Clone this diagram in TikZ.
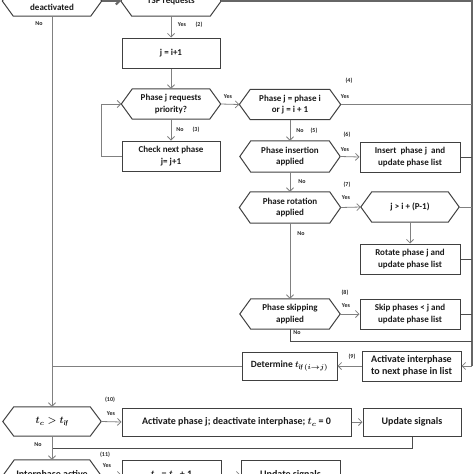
\documentclass[tikz,border=0pt]{standalone}
\usepackage{fontspec}
\setmainfont{Carlito}
\usetikzlibrary{arrows.meta,calc}
\newcommand\myhex[1]{\draw[hexline] (#1.west) -- ([xshift=11pt]#1.north west) -- ([xshift=-11pt]#1.north east) -- (#1.east) -- ([xshift=-11pt]#1.south east) -- ([xshift=11pt]#1.south west) -- cycle;}
\begin{document}
\begin{tikzpicture}[x=1pt,y=-1pt,
  box/.style={draw=black!75, line width=1pt, rectangle, inner sep=0pt, align=center, font=\fontsize{9}{11.5}\selectfont\bfseries, text=black!90},
  bigf/.style={font=\fontsize{10}{12}\selectfont\bfseries},
  hexn/.style={rectangle, inner sep=0pt, align=center, minimum height=30pt, font=\fontsize{9}{11.5}\selectfont\bfseries, text=black!90},
  txt/.style={inner sep=0pt, font=\fontsize{9}{11.5}\selectfont\bfseries, text=black!90},
  hexline/.style={draw=black!75, line width=1pt, line join=miter},
  conn/.style={draw=black!50, line width=0.8pt},
  arr/.style={conn, -{Straight Barb[length=3.5pt,width=7pt]}},
  bar/.style={draw=black!60, line width=2pt},
  lab/.style={font=\fontsize{6}{7}\selectfont\bfseries, text=black!85, inner sep=0pt},
]
\useasboundingbox (0,0) rectangle (474,474);
\clip (0,0) rectangle (474,474);

% nodes
\node[hexn, minimum width=99pt] (deact) at (52,1) {};
\node[txt] (deactT) at (52,7) {deactivated};
\node[hexn, minimum width=100pt] (tsp) at (171,1) {};
\node[txt] (tspT) at (171,1) {TSP requests};
\node[box, minimum width=98pt, minimum height=30pt] (ji) at (171,53) {j = i+1};
\node[hexn, minimum width=99pt] (req) at (171,104) {Phase j requests\\priority?};
\node[box, minimum width=98pt, minimum height=30pt] (chk) at (171,156) {Check next phase\\j= j+1};
\node[hexn, minimum width=101pt] (eq) at (290,104.5) {Phase j = phase i\\or j = i + 1};
\node[hexn, minimum width=100pt, minimum height=31pt] (ins) at (290,156.5) {Phase insertion\\applied};
\node[box, minimum width=100pt, minimum height=30pt] (insb) at (410,157) {Insert~ phase j~ and\\update phase list};
\node[hexn, minimum width=101pt, minimum height=31pt] (rot) at (290,207.5) {Phase rotation\\applied};
\node[hexn, minimum width=98pt] (jgt) at (410,207) {j > i + (P-1)};
\node[box, minimum width=100pt, minimum height=30pt] (rotb) at (410,259) {Rotate phase j and\\update phase list};
\node[hexn, minimum width=100pt] (skip) at (290,314) {Phase skipping\\applied};
\node[box, minimum width=100pt, minimum height=30pt] (skipb) at (410,314) {Skip phases < j and\\update phase list};
\node[box, bigf, minimum width=99pt, minimum height=30pt] (act) at (411.5,366) {Activate interphase\\to next phase in list};
\node[box, font=\fontsize{9.5}{11.5}\selectfont\bfseries, minimum width=95pt, minimum height=28pt] (det) at (289.5,366) {Determine {\boldmath$t_{\mathit{if}\,(i\rightarrow j)}$}};
\node[hexn, minimum width=98pt, minimum height=29pt, font=\fontsize{10}{12}\selectfont] (tc) at (52,421.5) {{\boldmath$t_c > t_{\mathit{if}}$}};
\node[box, bigf, minimum width=229pt, minimum height=28pt] (actj) at (236.5,422) {Activate phase j; deactivate interphase; {\boldmath$t_c$} = 0};
\node[box, bigf, minimum width=98pt, minimum height=28pt] (upd1) at (412,422) {Update signals};
\node[hexn, bigf, minimum width=97pt] (ia) at (52,475) {Interphase active};
\node[box, bigf, minimum width=99pt, minimum height=30pt] (tci) at (171.5,475) {{\boldmath$t_c$} = {\boldmath$t_c$} + 1};
\node[box, bigf, minimum width=99pt, minimum height=30pt] (upd2) at (290.5,475) {Update signals};

% hexagon outlines
\myhex{deact}\myhex{tsp}\myhex{req}\myhex{eq}\myhex{ins}\myhex{rot}\myhex{jgt}\myhex{skip}\myhex{tc}\myhex{ia}

% helper coordinates
\coordinate (rtop) at (472,1);
\coordinate (sk) at (290,341);
\coordinate (ub) at (412,448);

% connectors
\draw[bar, -{Straight Barb[length=3.5pt,width=7pt]}] (deact.east) -- (tsp.west);
\draw[bar] (tsp.east) -- (rtop) -- (rtop |- act.east);
\draw[arr] (rtop |- act.east) -- (act.east);
\draw[arr] (deact.south) -- (tc.north);
\draw[arr] (tsp.south) -- (ji.north);
\draw[arr] (ji.south) -- (req.north);
\draw[arr] (req.south) -- (chk.north);
\draw[arr] (chk.west) -- ++(-20,0) |- (req.west);
\draw[arr] (req.east) -- (eq.west);
\draw[conn] (eq.east) -- (eq.east -| rtop);
\draw[arr] (eq.south) -- (ins.north);
\draw[arr] (ins.east) -- (insb.west);
\draw[conn, draw=black!70] (insb.east) -- (insb.east -| rtop);
\draw[arr] (ins.south) -- (rot.north);
\draw[arr] (rot.east) -- (jgt.west);
\draw[conn] (jgt.east) -- (jgt.east -| rtop);
\draw[arr] (jgt.south) -- (rotb.north);
\draw[conn, draw=black!70] (rotb.east) -- (rotb.east -| rtop);
\draw[arr] (rot.south) -- (skip.north);
\draw[arr] (skip.east) -- (skipb.west);
\draw[conn, draw=black!70] (skipb.east) -- (skipb.east -| rtop);
\draw[conn, draw=black!70] (skip.south) -- (sk) -- (sk -| rtop);
\draw[arr] (act.west) -- (det.east);
\draw[conn] (det.west) -- (det.west -| deact.south);
\draw[arr] (tc.east) -- (actj.west);
\draw[arr] (actj.east) -- (upd1.west);
\draw[conn, draw=black!70] (upd1.south) -- (ub) -- (ub -| tc.south);
\draw[arr] (tc.south) -- (ia.north);
\draw[arr] (ia.east) -- (tci.west);
\draw[arr] (tci.east) -- (upd2.west);

% labels
\node[lab] (lN1) at (39,24) {No};
\node[lab] (lY2) at (182,25) {Yes};
\node[lab] (l2) at (199,25) {(2)};
\node[lab] (lY3) at (228,97) {Yes};
\node[lab] (lN3) at (180,130) {No};
\node[lab] (l3) at (196,130) {(3)};
\node[lab] (l4) at (349,81) {(4)};
\node[lab] (lY4) at (345,97) {Yes};
\node[lab] (lN5) at (300,131) {No};
\node[lab] (l5) at (314,131) {(5)};
\node[lab] (l6) at (347,135) {(6)};
\node[lab] (lY6) at (345,150) {Yes};
\node[lab] (lN6) at (302,182) {No};
\node[lab] (l7) at (347,185) {(7)};
\node[lab] (lY7) at (346,198) {Yes};
\node[lab] (lN7) at (301,234) {No};
\node[lab] (l8) at (345,293) {(8)};
\node[lab] (lY8) at (346,306) {Yes};
\node[lab] (lN8) at (297,333) {No};
\node[lab] (l9) at (352,357) {(9)};
\node[lab] (l10) at (110,400) {(10)};
\node[lab] (lY10) at (111,414) {Yes};
\node[lab] (lN10) at (38,445) {No};
\node[lab] (l11) at (105,455) {(11)};
\node[lab] (lY11) at (107,466) {Yes};
\end{tikzpicture}
\end{document}
